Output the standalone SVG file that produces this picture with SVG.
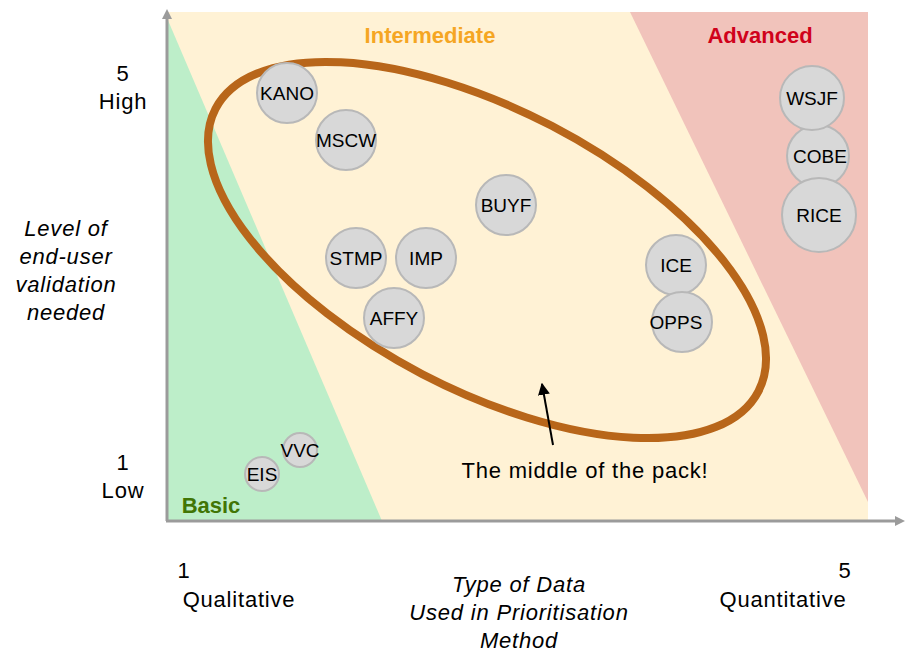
<svg xmlns="http://www.w3.org/2000/svg" width="918" height="660" viewBox="0 0 918 660">
<style>
text{font-family:"Liberation Sans",Arial,sans-serif;fill:#000}
.n circle{fill:#d8d8d8;stroke:#b8b8b8;stroke-width:2}
.n text{font-size:19px;text-anchor:middle}
.lab{font-size:22px;letter-spacing:0.8px;text-anchor:middle}
.it{font-style:italic}
.zone{font-size:22px;font-weight:bold;text-anchor:middle}
</style>
<defs>
<marker id="ax" markerWidth="10" markerHeight="10" refX="5" refY="5" orient="auto" markerUnits="userSpaceOnUse" viewBox="0 0 10 10"><path d="M0,0L10,5L0,10z" fill="#9b9b9b"/></marker>
<marker id="ar" markerWidth="12" markerHeight="12" refX="9" refY="5" orient="auto" markerUnits="userSpaceOnUse" viewBox="0 0 10 10"><path d="M0,0L10,5L0,10z" fill="#000"/></marker>
</defs>
<g id="background">
<rect x="167" y="12" width="701" height="509" fill="#fff2d5"/>
<polygon points="167,18 382,521 167,521" fill="#bdeec9"/>
<polygon points="630,12 868,12 868,502" fill="#f1c3bb"/>
</g>
<g id="axes" stroke="#9b9b9b" stroke-width="3">
<line x1="167" y1="521" x2="167" y2="14" marker-end="url(#ax)"/>
<line x1="166" y1="521" x2="900" y2="521" marker-end="url(#ax)"/>
</g>
<text class="zone" x="430" y="43" style="fill:#f5a623">Intermediate</text>
<text class="zone" x="760" y="43" style="fill:#d0021b">Advanced</text>
<text class="zone" x="211" y="513" style="fill:#417505">Basic</text>
<g id="ellipse"><ellipse cx="487" cy="250" rx="306" ry="140" transform="rotate(27.5 487 250)" fill="none" stroke="#b8661a" stroke-width="8"/></g>
<g id="n-kano" class="n"><circle cx="287" cy="93" r="30"/><text x="287" y="100">KANO</text></g>
<g id="n-mscw" class="n"><circle cx="346" cy="140" r="30"/><text x="346" y="147">MSCW</text></g>
<g id="n-buyf" class="n"><circle cx="506" cy="205" r="30"/><text x="506" y="212">BUYF</text></g>
<g id="n-stmp" class="n"><circle cx="356" cy="258" r="30"/><text x="356" y="265">STMP</text></g>
<g id="n-imp" class="n"><circle cx="426" cy="258" r="30"/><text x="426" y="265">IMP</text></g>
<g id="n-affy" class="n"><circle cx="394" cy="318" r="30"/><text x="394" y="325">AFFY</text></g>
<g id="n-ice" class="n"><circle cx="676" cy="265" r="30"/><text x="676" y="272">ICE</text></g>
<g id="n-opps" class="n"><circle cx="682" cy="322" r="30"/><text x="676" y="329">OPPS</text></g>
<g id="n-cobe" class="n"><circle cx="818" cy="156" r="31"/><text x="820" y="163">COBE</text></g>
<g id="n-wsjf" class="n"><circle cx="812" cy="98" r="32"/><text x="812" y="105">WSJF</text></g>
<g id="n-rice" class="n"><circle cx="819" cy="215" r="37"/><text x="819" y="222">RICE</text></g>
<g id="n-vvc" class="n"><circle cx="300" cy="450" r="17"/><text x="300" y="457">VVC</text></g>
<g id="n-eis" class="n"><circle cx="262" cy="474" r="17"/><text x="262" y="481">EIS</text></g>
<g id="connectors"><line x1="553" y1="445" x2="542" y2="384" stroke="#000" stroke-width="2" marker-end="url(#ar)"/></g>
<text class="lab" x="585" y="478">The middle of the pack!</text>
<text class="lab" x="123" y="81">5</text><text class="lab" x="123" y="109">High</text>
<text class="lab it" x="66" y="236">Level of</text><text class="lab it" x="66" y="264">end-user</text>
<text class="lab it" x="66" y="292">validation</text><text class="lab it" x="66" y="320">needed</text>
<text class="lab" x="123" y="470">1</text><text class="lab" x="123" y="498">Low</text>
<text class="lab" x="184" y="578">1</text><text class="lab" x="239" y="607">Qualitative</text>
<text class="lab it" x="519" y="592">Type of Data</text><text class="lab it" x="519" y="620">Used in Prioritisation</text><text class="lab it" x="519" y="648">Method</text>
<text class="lab" x="845" y="578">5</text><text class="lab" x="783" y="607">Quantitative</text>
</svg>
